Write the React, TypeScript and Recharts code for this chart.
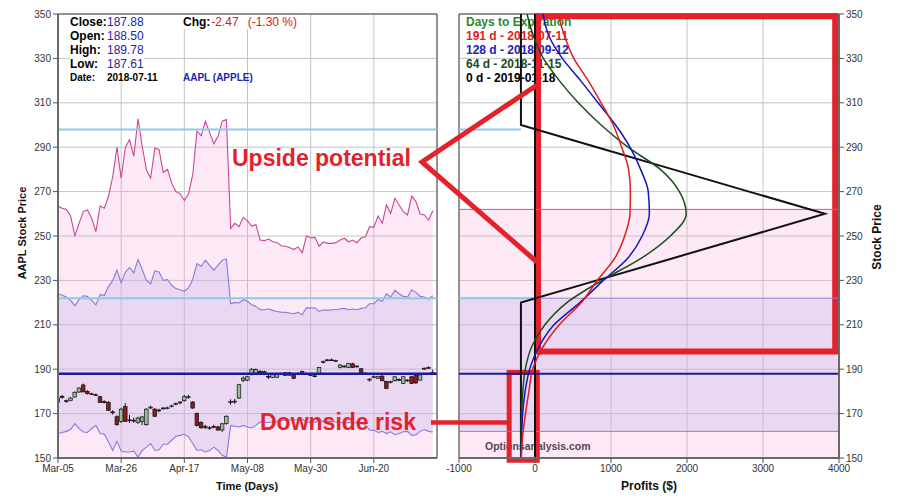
import React from 'react';
import {
  ComposedChart, Line, Area, Bar, XAxis, YAxis, CartesianGrid, ReferenceLine, ReferenceArea,
} from 'recharts';

// ---------- left chart: AAPL price history ----------
const dates = [
  'Mar-05','Mar-06','Mar-07','Mar-08','Mar-09','Mar-12','Mar-13','Mar-14','Mar-15','Mar-16','Mar-19','Mar-20','Mar-21','Mar-22','Mar-23','Mar-26','Mar-27','Mar-28','Mar-29',
  'Apr-02','Apr-03','Apr-04','Apr-05','Apr-06','Apr-09','Apr-10','Apr-11','Apr-12','Apr-13','Apr-16','Apr-17','Apr-18','Apr-19','Apr-20','Apr-23','Apr-24','Apr-25','Apr-26','Apr-27','Apr-30',
  'May-01','May-02','May-03','May-04','May-07','May-08','May-09','May-10','May-11','May-14','May-15','May-16','May-17','May-18','May-21','May-22','May-23','May-24','May-25','May-29','May-30','May-31',
  'Jun-01','Jun-04','Jun-05','Jun-06','Jun-07','Jun-08','Jun-11','Jun-12','Jun-13','Jun-14','Jun-15','Jun-18','Jun-19','Jun-20','Jun-21','Jun-22','Jun-25','Jun-26','Jun-27','Jun-28','Jun-29',
  'Jul-02','Jul-03','Jul-05','Jul-06','Jul-09','Jul-10','Jul-11',
];
const opens = [
  175.2,177.8,175.8,176.0,177.5,179.7,182.9,180.0,178.9,178.5,
  177.6,175.4,175.0,170.8,168.6,166.5,173.2,167.2,167.0,166.0,
  166.5,165.0,172.8,172.0,171.4,172.4,172.4,173.4,174.4,174.8,
  175.8,177.4,175.2,170.0,166.0,164.2,163.6,164.2,164.0,162.6,
  165.5,175.2,175.4,177.0,185.0,185.1,187.7,188.1,188.9,188.9,
  186.8,186.3,186.4,188.0,187.2,187.3,187.8,188.0,188.8,187.9,
  187.5,187.0,188.1,193.3,194.1,194.2,193.8,190.9,191.3,190.8,
  192.4,191.3,190.2,188.2,185.5,186.5,185.9,186.9,184.4,184.2,
  184.8,185.3,183.6,185.0,186.6,187.4,185.1,190.3,190.8,188.5,
];
const highs = [
  177.8,178.4,176.3,177.4,180.0,181.8,183.5,180.6,179.4,179.0,
  178.0,176.0,175.6,171.5,169.2,172.6,174.8,169.4,168.2,168.6,
  169.0,172.4,173.6,172.5,172.2,173.0,173.1,174.0,175.0,175.6,
  178.4,178.5,175.6,170.5,166.6,165.0,164.4,165.0,164.5,165.8,
  169.2,176.4,176.6,183.4,186.8,187.0,190.4,190.3,189.6,189.4,
  187.4,187.9,188.0,188.5,188.7,188.8,188.2,188.6,189.4,188.4,
  188.0,187.5,191.0,193.9,194.6,194.8,194.3,192.2,191.8,192.8,
  192.9,191.8,190.5,188.7,186.0,187.2,187.0,187.2,184.8,184.8,
  186.8,185.9,186.8,185.5,187.0,187.8,187.6,190.8,191.3,189.78,
];
const lows = [
  174.6,176.8,174.9,175.6,177.2,179.4,179.5,178.6,178.3,177.9,
  174.8,174.6,171.2,169.6,164.6,165.8,166.2,165.8,165.9,165.4,
  164.8,164.6,172.1,168.5,170.6,171.8,171.9,172.8,173.8,174.2,
  175.4,176.7,172.2,164.2,163.2,163.0,162.8,163.4,162.2,161.8,
  165.0,174.0,174.4,176.6,184.2,184.6,187.2,187.9,188.0,188.4,
  185.6,186.0,186.1,187.6,186.9,187.0,185.6,187.6,188.3,187.4,
  187.0,186.4,187.8,192.6,193.6,193.7,193.2,190.4,190.7,190.5,
  190.6,190.8,188.2,187.5,184.4,186.0,185.6,184.6,181.0,183.6,
  184.5,184.6,183.3,184.3,183.4,183.5,184.8,189.8,190.2,187.61,
];
const closes = [
  177.0,177.2,175.6,177.0,179.6,181.5,179.8,179.0,178.8,178.4,
  175.0,175.2,171.5,170.4,165.0,172.0,166.5,167.0,166.8,168.0,
  168.5,172.0,172.9,168.8,171.6,172.5,172.6,173.5,174.5,175.2,
  177.6,177.6,172.5,164.6,163.6,164.0,163.4,164.0,162.6,165.4,
  168.8,175.4,175.6,183.0,185.9,186.6,190.0,189.9,188.4,188.9,
  186.5,187.8,187.8,188.1,188.4,188.4,185.9,188.1,188.9,187.8,
  187.4,186.9,190.8,193.4,194.2,194.0,193.9,191.9,191.4,192.6,
  190.8,191.4,188.4,188.1,185.4,186.6,186.8,184.8,181.4,184.4,
  186.6,185.4,186.6,185.1,183.6,183.8,187.4,190.4,190.7,187.88,
];
const upperPink = [
  263.5,262.5,262.0,259.0,250.1,255.7,261.0,261.7,258.0,252.0,
  263.5,262.5,268.0,276.8,290.0,276.0,290.0,293.4,285.9,302.8,
  290.4,279.8,276.0,289.6,288.9,278.6,280.0,273.8,270.0,269.0,
  266.0,269.0,277.6,297.2,295.2,301.7,296.7,291.6,294.9,301.7,
  302.5,253.4,255.7,254.2,258.4,256.8,254.5,255.1,248.2,247.9,
  248.6,247.4,247.1,245.6,245.4,244.8,243.9,245.1,242.4,250.0,
  249.2,249.4,245.4,247.3,246.7,246.7,247.0,248.2,249.0,247.4,
  248.2,247.0,249.2,249.7,254.2,253.9,259.0,255.7,264.0,260.2,
  267.0,264.0,261.0,259.5,268.0,265.5,259.9,259.5,257.2,261.4,
];
const upperPurple = [
  224.0,223.3,222.5,221.0,218.6,221.3,223.1,222.8,221.0,219.0,
  223.6,223.3,227.3,230.0,234.6,228.9,233.8,235.8,233.4,239.4,
  234.9,230.0,228.5,234.3,233.8,230.0,230.4,227.8,226.3,225.8,
  225.1,226.6,230.5,237.6,236.4,239.1,236.8,234.6,236.8,239.1,
  239.6,219.5,220.1,219.8,221.3,220.6,219.0,218.3,216.8,216.8,
  217.1,216.5,216.0,215.7,215.6,215.3,215.0,215.6,214.5,217.7,
  217.5,217.7,216.0,216.8,216.5,216.8,216.8,217.2,217.4,216.8,
  217.1,216.8,217.4,217.7,219.5,219.5,221.3,220.6,224.0,222.5,
  225.5,224.0,222.8,222.5,225.8,224.6,222.8,222.5,221.6,223.1,
];
const lowerPurple = [
  161.0,161.5,162.0,162.8,165.5,163.2,161.7,161.5,163.2,164.7,
  161.0,160.7,157.2,153.4,157.5,153.1,152.7,152.7,153.1,150.4,
  153.4,154.9,156.5,153.4,153.7,156.2,156.2,158.0,159.8,160.2,
  160.7,159.5,156.5,153.4,153.7,152.7,153.4,154.9,153.4,151.2,
  150.4,164.7,164.3,164.0,164.7,164.0,163.5,164.7,166.2,166.0,
  166.0,166.2,166.4,166.8,167.0,167.2,167.0,167.2,167.5,166.0,
  166.2,166.0,167.0,166.4,166.6,166.5,166.2,166.0,165.8,166.0,
  165.8,166.0,165.5,165.0,162.5,162.6,161.5,162.0,161.0,161.8,
  160.5,161.0,161.8,162.0,160.2,160.5,162.0,162.8,162.0,161.7,
];
const priceTicks = [150, 170, 190, 210, 230, 250, 270, 290, 310, 330, 350];
const dateTickIdx = [0, 15, 30, 45, 60, 75];

// reference levels (stock price)
const lastClose = 188;
const upperBlue = 298;
const lowerBlue = 222;
const pinkTop = 262;
const purpleTop = 222;
const purpleBottom = 162;

// ---------- right chart: profit profile ----------
const stockPrices = [150,160,170,180,190,200,210,220,230,240,250,260,270,280,290,300,310,320,330,340,350];
const pl191 = [-180,-162,-125,-80,-30,105,320,610,820,1050,1180,1250,1255,1232,1140,1030,870,700,510,390,305];
const pl128 = [-182,-176,-162,-130,-70,50,250,590,900,1220,1410,1505,1490,1390,1250,1060,830,600,360,185,105];
const pl64 = [-184,-182,-176,-160,-128,-45,130,420,880,1400,1780,1990,1900,1650,1224,870,570,320,110,-20,-105];
const pl0 = [-185,-185,-185,-185,-185,-185,-185,-185,815,1815,2815,3815,2815,1815,815,-185,-185,-185,-185,-185,-185];
const profitTicks = [-1000, 0, 1000, 2000, 3000, 4000];

const priceRows = dates.map((d, i) => ({
  i, date: d, o: opens[i], h: highs[i], l: lows[i], c: closes[i],
  pink: upperPink[i], pu: upperPurple[i], pl: lowerPurple[i],
}));
const profitRows = stockPrices.map((p, k) => ({
  price: p, d191: pl191[k], d128: pl128[k], d64: pl64[k], d0: pl0[k],
}));

const RED = '#e3222b';
const FONT = '"Liberation Sans", Arial, Helvetica, sans-serif';
const tickStyle = { fontSize: 10, fill: '#333' };

const Candle = (props: any) => {
  const { x, y, width, height, payload } = props;
  if (!payload) return null;
  const top = Math.min(y, y + height);
  const bot = Math.max(y, y + height);
  const range = payload.h - payload.l;
  const k = range > 0 ? (bot - top) / range : 0;
  const yo = top + (payload.h - payload.o) * k;
  const yc = top + (payload.h - payload.c) * k;
  const cx = x + width / 2;
  const up = payload.c >= payload.o;
  const bt = Math.min(yo, yc);
  const bh = Math.max(Math.abs(yo - yc), 0.8);
  return (
    <g>
      <line x1={cx} x2={cx} y1={top} y2={bot} stroke="#111" strokeWidth={1} />
      <rect x={cx - 1.8} y={bt} width={3.6} height={bh} fill={up ? '#93c093' : '#8b1c1c'} stroke="#111" strokeWidth={0.7} />
    </g>
  );
};

const abs = (left: number, top: number, extra: any = {}) => ({
  position: 'absolute' as const, left, top, whiteSpace: 'nowrap' as const, ...extra,
});

export default function App() {
  return (
    <div style={{ position: 'fixed', left: 0, top: 0, width: 900, height: 500, background: '#fff', fontFamily: FONT, overflow: 'hidden' }}>
      {/* right legend and watermark (beneath chart lines) */}
      <div style={abs(466, 15, { fontSize: 12, fontWeight: 'bold', lineHeight: '14px' })}>
        <div style={{ color: '#2a8a2a' }}>Days to Expiration</div>
        <div style={{ color: '#dd2222' }}>191 d - 2018-07-11</div>
        <div style={{ color: '#2222bb' }}>128 d - 2018-09-12</div>
        <div style={{ color: '#1e4a1e' }}>64 d - 2018-11-15</div>
        <div style={{ color: '#000' }}>0 d - 2019-01-18</div>
      </div>
      <div style={abs(485, 439, { fontSize: 10.5, fontWeight: 'bold', color: '#222', lineHeight: '14px' })}>Optionsanalysis.com</div>

      {/* left chart */}
      <div style={{ position: 'absolute', left: 0, top: 0 }}>
        <ComposedChart width={450} height={500} data={priceRows} margin={{ top: 14, right: 13, bottom: 12, left: 0 }}>
          <CartesianGrid stroke="#c4c4c4" strokeWidth={1} />
          <XAxis dataKey="i" type="number" domain={[0, 90]} ticks={dateTickIdx} interval={0} allowDataOverflow
            tickFormatter={(v: number) => dates[v]} tick={tickStyle} tickSize={5}
            tickLine={{ stroke: '#555' }} axisLine={{ stroke: '#6a6a6a', strokeWidth: 2 }} height={30} />
          <YAxis type="number" domain={[150, 350]} ticks={priceTicks} interval={0} allowDataOverflow width={58}
            tick={tickStyle} tickSize={5} tickLine={{ stroke: '#555' }} axisLine={{ stroke: '#6a6a6a', strokeWidth: 2 }} />
          <Area dataKey="pink" type="linear" fill="#f2a6d8" fillOpacity={0.25} stroke="none" isAnimationActive={false} />
          <Area dataKey={(d: any) => [d.pl, d.pu]} type="linear" fill="#c4b4ee" fillOpacity={0.33} stroke="none" isAnimationActive={false} />
          <Line dataKey="pink" type="linear" stroke="#cc4499" strokeWidth={1.1} dot={false} isAnimationActive={false} />
          <Line dataKey="pu" type="linear" stroke="#8a7ad8" strokeWidth={1.1} dot={false} isAnimationActive={false} />
          <Line dataKey="pl" type="linear" stroke="#8a7ad8" strokeWidth={1.1} dot={false} isAnimationActive={false} />
          <ReferenceLine y={upperBlue} stroke="#8ccbe6" strokeWidth={2} />
          <ReferenceLine y={lowerBlue} stroke="#8ccbe6" strokeWidth={2} />
          <ReferenceLine y={lastClose} stroke="#1a1a9a" strokeWidth={2.5} />
          <Bar dataKey={(d: any) => [d.l, d.h]} barSize={4} shape={Candle} isAnimationActive={false} />
          <ReferenceArea x1={0} x2={90} y1={150} y2={350} fill="none" stroke="#444" strokeWidth={1} ifOverflow="visible" />
        </ComposedChart>
      </div>

      {/* right chart */}
      <div style={{ position: 'absolute', left: 430, top: 0 }}>
        <ComposedChart layout="vertical" width={470} height={500} data={profitRows} margin={{ top: 14, right: 0, bottom: 12, left: 29 }}>
          <CartesianGrid stroke="#c4c4c4" strokeWidth={1} />
          <XAxis type="number" domain={[-1000, 4000]} ticks={profitTicks} interval={0} allowDataOverflow
            tick={tickStyle} tickSize={5} tickLine={{ stroke: '#555' }} axisLine={{ stroke: '#6a6a6a', strokeWidth: 2 }} height={30} />
          <YAxis dataKey="price" type="number" orientation="right" reversed domain={[150, 350]} ticks={priceTicks} interval={0}
            allowDataOverflow width={61} tick={tickStyle} tickSize={5} tickLine={{ stroke: '#555' }}
            axisLine={{ stroke: '#6a6a6a', strokeWidth: 2 }} />
          <ReferenceArea y1={150} y2={pinkTop} fill="#f2a6d8" fillOpacity={0.25} stroke="none" />
          <ReferenceArea y1={purpleBottom} y2={purpleTop} fill="#c4b4ee" fillOpacity={0.33} stroke="none" />
          <ReferenceLine y={pinkTop} stroke="#c05a9c" strokeWidth={1} />
          <ReferenceLine y={purpleTop} stroke="#9080d8" strokeWidth={1} />
          <ReferenceLine y={purpleBottom} stroke="#9080d8" strokeWidth={1} />
          <ReferenceLine segment={[{ x: -1000, y: upperBlue }, { x: -185, y: upperBlue }]} stroke="#8ccbe6" strokeWidth={2} />
          <ReferenceLine segment={[{ x: -1000, y: lowerBlue }, { x: 0, y: lowerBlue }]} stroke="#8ccbe6" strokeWidth={2} />
          <ReferenceLine y={lastClose} stroke="#1a1a9a" strokeWidth={2} />
          <ReferenceLine x={0} stroke="#111" strokeWidth={2} />
          <Line dataKey="d0" type="linear" stroke="#111" strokeWidth={2} dot={false} isAnimationActive={false} />
          <Line dataKey="d64" type="monotone" stroke="#1a4f1a" strokeWidth={1.5} dot={false} isAnimationActive={false} />
          <Line dataKey="d128" type="monotone" stroke="#1414c0" strokeWidth={1.5} dot={false} isAnimationActive={false} />
          <Line dataKey="d191" type="monotone" stroke="#e01c1c" strokeWidth={1.5} dot={false} isAnimationActive={false} />
          <ReferenceArea x1={-1000} x2={4000} y1={150} y2={350} fill="none" stroke="#444" strokeWidth={1} ifOverflow="visible" />
          <ReferenceArea x1={40} x2={3950} y1={198} y2={349} fill="none" stroke={RED} strokeWidth={6} ifOverflow="visible" />
          <ReferenceArea x1={-340} x2={30} y1={149} y2={188.5} fill="none" stroke={RED} strokeWidth={5} ifOverflow="visible" />
        </ComposedChart>
      </div>

      {/* left info box */}
      <div style={abs(70, 15, { fontSize: 12, lineHeight: '14px', background: '#fff' })}>
        <div><b>Close:</b></div>
        <div><b>Open:</b></div>
        <div><b>High:</b></div>
        <div><b>Low:</b></div>
      </div>
      <div style={abs(107, 15, { fontSize: 12, lineHeight: '14px', color: '#2424a8', background: '#fff' })}>
        <div>187.88</div>
        <div>188.50</div>
        <div>189.78</div>
        <div>187.61</div>
      </div>
      <div style={abs(183, 15, { fontSize: 12, lineHeight: '14px', background: '#fff' })}>
        <b>Chg:</b><span style={{ color: '#cc2222', marginLeft: 1 }}>-2.47</span>
        <span style={{ color: '#cc2222', marginLeft: 9 }}>(-1.30 %)</span>
      </div>
      <div style={abs(70, 72, { fontSize: 10, fontWeight: 'bold', lineHeight: '12px' })}>Date:</div>
      <div style={abs(107, 72, { fontSize: 10, fontWeight: 'bold', lineHeight: '12px' })}>2018-07-11</div>
      <div style={abs(183, 72, { fontSize: 10, fontWeight: 'bold', lineHeight: '12px', color: '#2424a8' })}>AAPL (APPLE)</div>

      {/* axis titles */}
      <div style={abs(22, 233, { fontSize: 11, fontWeight: 'bold', transform: 'translate(-50%, -50%) rotate(-90deg)', color: '#111' })}>AAPL Stock Price</div>
      <div style={abs(877, 237, { fontSize: 12, fontWeight: 'bold', transform: 'translate(-50%, -50%) rotate(-90deg)', color: '#111' })}>Stock Price</div>
      <div style={abs(247, 486, { fontSize: 11, fontWeight: 'bold', transform: 'translate(-50%, -50%)', color: '#111' })}>Time (Days)</div>
      <div style={abs(649, 486, { fontSize: 12, fontWeight: 'bold', transform: 'translate(-50%, -50%)', color: '#111' })}>Profits ($)</div>

      {/* annotations */}
      <svg width={900} height={500} style={{ position: 'absolute', left: 0, top: 0, pointerEvents: 'none' }}>
        <polyline points="537,85 422,162 537,262" fill="none" stroke={RED} strokeWidth={5} strokeLinejoin="miter" />
        <line x1={431} y1={422.5} x2={508} y2={422.5} stroke={RED} strokeWidth={4.5} />
        <text x={232} y={166} fontSize={23} fontWeight="bold" fill={RED} fontFamily={FONT}>Upside potential</text>
        <text x={260} y={430} fontSize={23} fontWeight="bold" fill={RED} fontFamily={FONT}>Downside risk</text>
      </svg>
    </div>
  );
}
